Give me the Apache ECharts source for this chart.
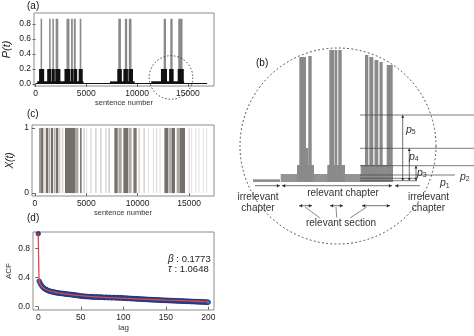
<!DOCTYPE html>
<html><head><meta charset="utf-8">
<script src="https://cdn.jsdelivr.net/npm/echarts@6/dist/echarts.min.js"></script>
<style>html,body{margin:0;padding:0;background:#fff}#c{width:474px;height:336px}</style>
</head><body><div id="c"></div>
<script>
// ---------- Panel (a): P(t) vs sentence number ----------
const aTicksX = [0, 5000, 10000, 15000];
const aTicksY = [0, 0.2, 0.4, 0.6, 0.8];
const aBaseline = [[0, 16900]];
const aBaseLevel = 0.012;
const aChapters = [[166, 4713], [7330, 9760], [11390, 14635]];
const aChapterLevel = 0.035;
const aSections = [[350,850],[1150,1560],[1600,1900],[1950,2450],[2850,3400],[3450,3750],[3780,4100],[4250,4650],[8050,8500],[8650,9100],[9150,9600],[12350,12950],[13150,13600],[14000,14600]];
const aSectionLevel = 0.2;
const aPeaks = [[500,650],[1340,1490],[1660,1810],[1980,2240],[3050,3340],[3500,3670],[3770,3960],[4350,4510],[8150,8410],[8795,9025],[9190,9450],[12620,12850],[13270,13500],[14055,14475]];
const aPeakLevel = 0.87;

// ---------- Panel (c): X(t) barcode (binned density of X=1) ----------
const cTicksX = [0, 5000, 10000, 15000];
const cTicksY = [0, 1];
const cBins = [[390,584,0.6],[584,818,0.9],[915,1042,0.3],[1071,1305,0.9],[1363,1500,0.5],[1558,1753,0.9],[1821,1947,0.5],[2016,2278,0.9],[2337,2473,0.3],[2600,2765,0.25],[2921,3895,0.9],[3895,4226,0.55],[4382,4547,0.8],[4713,4869,0.25],[4990,5080,0.2],[5355,5521,0.2],[5842,6008,0.25],[6329,6495,0.25],[6816,6982,0.2],[7147,7303,0.3],[7731,8052,0.9],[8121,8442,0.55],[8607,9094,0.9],[9153,9416,0.5],[9581,9903,0.85],[10068,10224,0.25],[10555,10711,0.25],[11000,11090,0.2],[11480,11570,0.2],[11800,11900,0.25],[12120,12220,0.2],[12600,12990,0.9],[13048,13310,0.5],[13310,13632,0.9],[13797,14022,0.55],[14061,14605,0.9],[14937,15094,0.2],[15210,15300,0.2],[15600,15690,0.2],[15920,16010,0.2],[16350,16440,0.2],[16670,16760,0.2]];

// ---------- Panel (d): ACF vs lag ----------
const dTicksX = [0, 50, 100, 150, 200];
const dTicksY = [0, 0.4, 0.8];
const dACF = [
1.000,0.352,0.328,0.305,0.288,0.272,0.262,0.250,0.243,0.236,0.229,0.226,0.218,0.214,0.212,0.206,0.209,0.201,0.197,0.202,0.193,
0.190,0.194,0.186,0.189,0.183,0.186,0.180,0.184,0.177,0.181,0.175,0.172,0.177,0.170,0.168,0.173,0.166,0.164,0.169,0.162,
0.160,0.165,0.158,0.155,0.160,0.152,0.150,0.155,0.147,0.144,0.149,0.143,0.140,0.146,0.139,0.142,0.137,0.141,0.136,0.139,
0.134,0.139,0.135,0.131,0.136,0.133,0.129,0.134,0.137,0.130,0.127,0.132,0.135,0.128,0.126,0.131,0.129,0.124,0.128,0.131,
0.126,0.122,0.127,0.130,0.125,0.121,0.126,0.123,0.128,0.124,0.119,0.123,0.127,0.121,0.118,0.122,0.125,0.119,0.116,0.121,
0.118,0.114,0.119,0.116,0.112,0.117,0.113,0.110,0.115,0.111,0.108,0.113,0.110,0.106,0.111,0.107,0.104,0.109,0.105,0.102,
0.107,0.103,0.100,0.105,0.101,0.098,0.103,0.099,0.096,0.101,0.097,0.094,0.099,0.095,0.093,0.097,0.094,0.091,0.096,0.092,
0.089,0.094,0.090,0.087,0.092,0.088,0.086,0.090,0.087,0.084,0.089,0.085,0.083,0.088,0.084,0.081,0.086,0.082,0.080,0.084,
0.081,0.078,0.083,0.079,0.077,0.081,0.078,0.075,0.080,0.076,0.074,0.078,0.075,0.072,0.077,0.073,0.071,0.075,0.072,0.069,
0.074,0.070,0.068,0.072,0.069,0.066,0.071,0.067,0.065,0.069,0.066,0.063,0.068,0.064,0.062,0.066,0.063,0.060,0.064,0.061];
const dFitLag = [0, 1, 2, 3, 5, 8, 12, 20, 30, 40, 50, 60, 75, 90, 110, 130, 150, 175, 200];
const dFitACF = [1.0, 0.345, 0.312, 0.292, 0.266, 0.243, 0.222, 0.197, 0.178, 0.163, 0.151, 0.141, 0.130, 0.121, 0.110, 0.100, 0.091, 0.080, 0.068];
const dBeta = '0.1773', dTau = '1.0648';

// ---------- Panel (b): schematic (x in schematic units, y heights) ----------
const bIrrelevant = [[14, 41, 2.7]];
const bChapter = [[41.7, 154, 8]];
const bSections = [[58, 75, 17], [88.3, 106, 17], [121.7, 154, 17]];
const bPeaks = [[60.3, 65, 125], [65, 67, 125], [67, 69.3, 34], [69.3, 72.7, 126], [90.3, 95, 132], [95.5, 98.3, 132], [99.3, 102.7, 132], [126, 129.3, 127], [130.3, 134.3, 125], [135.5, 139.3, 122], [140.5, 143.7, 120], [147.7, 153.7, 117]];
const bLevelLines = [[121, 235, 67], [121, 235, 33.7], [121, 235, 16.3], [121, 216, 7], [121, 178, 3.7], [121, 178, 1.3]];
const bLevelArrows = [[163.7, 1.3, 67], [170.3, 1.3, 33.7], [177, 1.3, 16.3]];
const bSpanArrows = [[16, 41, -3.7, 'end'], [43, 153, -3.7, 'both'], [156, 181, -3.7, 'start'], [60, 73, -23.7, 'both'], [91, 104, -23.7, 'both'], [123, 151, -23.7, 'both']];
const bConnectors = [[66, -25, 81, -36], [97, -25, 97.7, -35.5], [127.7, -25, 111, -36]];

const FONT = '"Liberation Sans", Arial, Helvetica, sans-serif';
const chart = echarts.init(document.getElementById('c'), null, {renderer: 'canvas'});

function span(api, x0, x1, y0, y1, minW) {
  const p = api.coord([x0, y1]), q = api.coord([x1, y0]);
  let x = p[0], w = q[0] - p[0];
  if (minW && w < minW) { x -= (minW - w) / 2; w = minW; }
  return {x: x, y: p[1], width: w, height: q[1] - p[1]};
}
function rectSeries(idx, data, colorFn, z) {
  return {type: 'custom', xAxisIndex: idx, yAxisIndex: idx, data: data, z: z, silent: true, clip: false,
    renderItem: function (params, api) {
      return {type: 'rect', shape: span(api, api.value(0), api.value(1), api.value(2), api.value(3), 0.8),
        style: {fill: colorFn(api)}};
    }};
}
function arrowHead(x, y, dir, s) {
  const h = s || 3, w = (s || 3) * 0.55;
  let pts;
  if (dir === 'r') pts = [[x, y], [x - h, y - w], [x - h, y + w]];
  else if (dir === 'l') pts = [[x, y], [x + h, y - w], [x + h, y + w]];
  else if (dir === 'u') pts = [[x, y], [x - w, y + h], [x + w, y + h]];
  else pts = [[x, y], [x - w, y - h], [x + w, y - h]];
  return {type: 'polygon', shape: {points: pts}, style: {fill: '#333'}};
}

function valueAxis(idx, min, max, ticks, fmt, extra) {
  return Object.assign({
    type: 'value', gridIndex: idx, min: min, max: max, scale: true,
    axisLine: {show: false},
    axisTick: {show: true, inside: false, length: 3, customValues: ticks, lineStyle: {color: '#666', width: 1}},
    axisLabel: {show: true, customValues: ticks, fontSize: 8.5, color: '#222', fontFamily: FONT, margin: 3,
      formatter: fmt},
    splitLine: {show: false}
  }, extra || {});
}
const gridStyle = {show: true, borderColor: '#8c8c8c', borderWidth: 1, backgroundColor: 'transparent'};

const grayFor = function (d) { const v = Math.round(255 - d * (255 - 100)); const r = v, g = Math.round(v - d * 6), b = Math.round(v - d * 12); return 'rgb(' + r + ',' + g + ',' + b + ')'; };

function pLabel(x, y, n) {
  return {type: 'text', x: x, y: y, z: 10, style: {text: '{i|p}{s|' + n + '}', verticalAlign: 'middle',
    rich: {i: {fontStyle: 'italic', fontSize: 10.5, fontFamily: FONT, fill: '#333'},
           s: {fontSize: 7, fontFamily: FONT, fill: '#333', padding: [5, 0, 0, 0]}}}};
}

const option = {
  animation: false,
  backgroundColor: '#fff',
  grid: [
    Object.assign({left: 32, top: 13, width: 182, height: 73}, gridStyle),
    Object.assign({left: 32, top: 125, width: 182, height: 71}, gridStyle),
    Object.assign({left: 33, top: 232, width: 181, height: 78}, gridStyle),
    {left: 239, top: 48, width: 235, height: 196, show: false}
  ],
  xAxis: [
    valueAxis(0, -150, 17575, aTicksX, v => String(v), {name: 'sentence number', nameLocation: 'middle', nameGap: 13,
      nameTextStyle: {fontSize: 7.5, color: '#333', fontFamily: FONT}}),
    valueAxis(1, -290, 17430, cTicksX, v => String(v), {name: 'sentence number', nameLocation: 'middle', nameGap: 13,
      nameTextStyle: {fontSize: 7.5, color: '#333', fontFamily: FONT}}),
    valueAxis(2, -6.2, 206.7, dTicksX, v => String(v), {name: 'lag', nameLocation: 'middle', nameGap: 14,
      nameTextStyle: {fontSize: 8, color: '#333', fontFamily: FONT}}),
    {type: 'value', gridIndex: 3, min: 0, max: 235, show: false}
  ],
  yAxis: [
    valueAxis(0, -0.027, 0.947, aTicksY, v => v.toFixed(1), {name: 'P(t)', nameLocation: 'middle', nameGap: 22, nameRotate: 90,
      nameTextStyle: {fontSize: 11, fontStyle: 'italic', color: '#222', fontFamily: FONT}}),
    valueAxis(1, -0.045, 1.045, cTicksY, v => String(v), {name: 'X(t)', nameLocation: 'middle', nameGap: 17, nameRotate: 90,
      nameTextStyle: {fontSize: 10, fontStyle: 'italic', color: '#222', fontFamily: FONT}}),
    valueAxis(2, -0.045, 1.023, dTicksY, v => v.toFixed(1), {name: 'ACF', nameLocation: 'middle', nameGap: 20, nameRotate: 90,
      nameTextStyle: {fontSize: 8, color: '#333', fontFamily: FONT}}),
    {type: 'value', gridIndex: 3, min: -62, max: 134, show: false}
  ],
  series: [
    rectSeries(0, aPeaks.map(s => [s[0], s[1], 0, aPeakLevel]), () => '#8a8a8a', 2),
    rectSeries(0, aSections.map(s => [s[0], s[1], 0, aSectionLevel]), () => '#111', 3),
    rectSeries(0, aChapters.map(s => [s[0], s[1], 0, aChapterLevel]), () => '#111', 3),
    rectSeries(0, aBaseline.map(s => [s[0], s[1], 0, aBaseLevel]), () => '#111', 3),
    rectSeries(1, cBins.map(s => [s[0], s[1], 0, 1, s[2]]), api => grayFor(api.value(4)), 2),
    {type: 'scatter', xAxisIndex: 2, yAxisIndex: 2, symbol: 'circle', symbolSize: 4.5, z: 3, silent: true,
      data: dACF.map((v, i) => i === 0 ? {value: [i, v], itemStyle: {color: '#4b3f8f', borderColor: '#241c55'}} : [i, v]),
      itemStyle: {color: '#2e6fd0', borderColor: '#1e2b70', borderWidth: 0.7, opacity: 1}},
    {type: 'line', xAxisIndex: 2, yAxisIndex: 2, smooth: 0.25, symbol: 'none', z: 4, silent: true,
      data: dFitLag.map((l, i) => [l, dFitACF[i]]), lineStyle: {color: '#e8453c', width: 1.3}},
    rectSeries(3, bIrrelevant.map(s => [s[0], s[1], 0, s[2]]), () => '#8f8f8f', 2),
    rectSeries(3, bChapter.map(s => [s[0], s[1], 0, s[2]]), () => '#949494', 2),
    rectSeries(3, bSections.map(s => [s[0], s[1], 0, s[2]]), () => '#8c8c8c', 3),
    rectSeries(3, bPeaks.map(s => [s[0], s[1], 0, s[2]]), () => '#8a8a8a', 4),
    {type: 'custom', xAxisIndex: 3, yAxisIndex: 3, data: bLevelLines, z: 5, silent: true, clip: false,
      renderItem: function (p, api) {
        const a = api.coord([api.value(0), api.value(2)]), b = api.coord([api.value(1), api.value(2)]);
        return {type: 'line', shape: {x1: a[0], y1: a[1], x2: b[0], y2: b[1]}, style: {stroke: '#444', lineWidth: 0.7}};
      }},
    {type: 'custom', xAxisIndex: 3, yAxisIndex: 3, data: bLevelArrows, z: 5, silent: true, clip: false,
      renderItem: function (p, api) {
        const a = api.coord([api.value(0), api.value(1)]), b = api.coord([api.value(0), api.value(2)]);
        return {type: 'group', children: [
          {type: 'line', shape: {x1: a[0], y1: a[1], x2: b[0], y2: b[1]}, style: {stroke: '#333', lineWidth: 0.7}},
          arrowHead(a[0], a[1], 'd', 2.8), arrowHead(b[0], b[1], 'u', 2.8)]};
      }},
    {type: 'custom', xAxisIndex: 3, yAxisIndex: 3, data: bSpanArrows, z: 5, silent: true, clip: false,
      renderItem: function (p, api) {
        const a = api.coord([api.value(0), api.value(2)]), b = api.coord([api.value(1), api.value(2)]);
        const mode = bSpanArrows[p.dataIndex][3];
        const ch = [{type: 'line', shape: {x1: a[0], y1: a[1], x2: b[0], y2: b[1]}, style: {stroke: '#333', lineWidth: 0.7}}];
        if (mode === 'both' || mode === 'start') ch.push(arrowHead(a[0], a[1], 'l', 3.2));
        if (mode === 'both' || mode === 'end') ch.push(arrowHead(b[0], b[1], 'r', 3.2));
        return {type: 'group', children: ch};
      }},
    {type: 'custom', xAxisIndex: 3, yAxisIndex: 3, data: bConnectors, z: 5, silent: true, clip: false,
      renderItem: function (p, api) {
        const a = api.coord([api.value(0), api.value(1)]), b = api.coord([api.value(2), api.value(3)]);
        return {type: 'line', shape: {x1: a[0], y1: a[1], x2: b[0], y2: b[1]}, style: {stroke: '#555', lineWidth: 0.7}};
      }}
  ],
  graphic: [
    {type: 'text', left: 27, top: 1, style: {text: '(a)', font: '10px ' + FONT, fill: '#111'}},
    {type: 'text', left: 27, top: 109, style: {text: '(c)', font: '10px ' + FONT, fill: '#111'}},
    {type: 'text', left: 27, top: 213, style: {text: '(d)', font: '10px ' + FONT, fill: '#111'}},
    {type: 'text', left: 256, top: 58, z: 10, style: {text: '(b)', font: '10px ' + FONT, fill: '#111'}},
    {type: 'circle', shape: {cx: 171, cy: 77.5, r: 21.8}, z: 20, style: {fill: 'none', stroke: '#333', lineWidth: 0.9, lineDash: [1.5, 2]}},
    {type: 'circle', shape: {cx: 338, cy: 146, r: 98}, z: 20, style: {fill: 'none', stroke: '#333', lineWidth: 0.9, lineDash: [1.8, 2.4]}},
    {type: 'text', x: 168, y: 254, z: 10, style: {text: '{i|β} : ' + dBeta, font: '9.5px ' + FONT, fill: '#222',
      rich: {i: {fontStyle: 'italic', fontSize: 10, fontFamily: FONT, fill: '#222'}}}},
    {type: 'text', x: 168, y: 264, z: 10, style: {text: '{i|τ} : ' + dTau, font: '9.5px ' + FONT, fill: '#222',
      rich: {i: {fontStyle: 'italic', fontSize: 10, fontFamily: FONT, fill: '#222'}}}},
    {type: 'text', x: 258, y: 197, z: 10, style: {text: 'irrelevant', font: '10px ' + FONT, fill: '#333', align: 'center', verticalAlign: 'middle'}},
    {type: 'text', x: 258, y: 208.5, z: 10, style: {text: 'chapter', font: '10px ' + FONT, fill: '#333', align: 'center', verticalAlign: 'middle'}},
    {type: 'text', x: 343, y: 193, z: 10, style: {text: 'relevant chapter', font: '10px ' + FONT, fill: '#333', align: 'center', verticalAlign: 'middle'}},
    {type: 'text', x: 428.5, y: 197, z: 10, style: {text: 'irrelevant', font: '10px ' + FONT, fill: '#333', align: 'center', verticalAlign: 'middle'}},
    {type: 'text', x: 428.5, y: 208.5, z: 10, style: {text: 'chapter', font: '10px ' + FONT, fill: '#333', align: 'center', verticalAlign: 'middle'}},
    {type: 'text', x: 341, y: 223.5, z: 10, style: {text: 'relevant section', font: '10px ' + FONT, fill: '#333', align: 'center', verticalAlign: 'middle'}},
    pLabel(406, 130, 5), pLabel(409, 157, 4), pLabel(417, 173, 3), pLabel(440, 183.5, 1), pLabel(460, 177, 2)
  ]
};
chart.setOption(option);
</script></body></html>
